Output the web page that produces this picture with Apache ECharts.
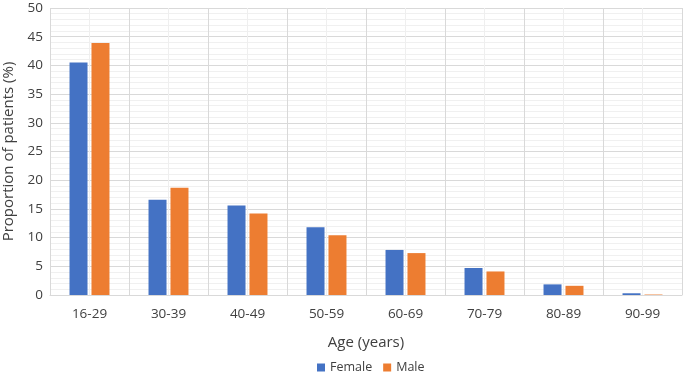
<!DOCTYPE html>
<html>
<head>
<meta charset="utf-8">
<script src="https://cdn.jsdelivr.net/npm/echarts@6/dist/echarts.min.js"></script>
<style>
  html, body { margin: 0; padding: 0; background: #fff; }
  #main { width: 685px; height: 372px; }
</style>
</head>
<body>
<div id="main"></div>
<script>
const ageGroups = ['16-29', '30-39', '40-49', '50-59', '60-69', '70-79', '80-89', '90-99']
const female = [40.5, 16.6, 15.6, 11.8, 7.85, 4.7, 1.85, 0.3]
const male = [43.9, 18.7, 14.2, 10.4, 7.3, 4.1, 1.6, 0.08]
const yTicks = { min: 0, max: 50, interval: 5 }

const font = 'Open Sans'
const chart = echarts.init(document.getElementById('main'))
chart.setOption({
  animation: false,
  textStyle: { fontFamily: font },
  grid: { left: 50, right: 3, top: 8, bottom: 77, outerBoundsMode: 'none', containLabel: false },
  legend: {
    top: 356,
    left: 312,
    itemWidth: 8,
    itemHeight: 8,
    itemGap: 11,
    icon: 'rect',
    textStyle: { fontSize: 12.5, color: '#404040', fontFamily: font },
    data: ['Female', 'Male']
  },
  xAxis: [
    {
      type: 'category',
      data: ageGroups,
      name: 'Age (years)',
      nameLocation: 'middle',
      nameGap: 40,
      nameTextStyle: { fontSize: 15, color: '#404040', fontFamily: font },
      axisLine: { lineStyle: { color: '#d9d9d9' } },
      axisTick: { show: false },
      axisLabel: { color: '#404040', fontSize: 13.5, margin: 12 },
      splitLine: { show: true, lineStyle: { color: '#d9d9d9' } }
    },
    {
      type: 'value',
      min: 0,
      max: 8,
      interval: 1,
      position: 'bottom',
      show: true,
      axisLine: { show: false },
      axisTick: { show: false },
      axisLabel: { show: false },
      splitLine: { show: false },
      minorSplitLine: { show: true, lineStyle: { color: '#efefef' } },
      minorTick: { show: false, splitNumber: 2 }
    }
  ],
  yAxis: {
    type: 'value',
    min: yTicks.min,
    max: yTicks.max,
    interval: yTicks.interval,
    name: 'Proportion of patients (%)',
    nameLocation: 'middle',
    nameGap: 33,
    nameTextStyle: { fontSize: 15, color: '#404040', fontFamily: font },
    axisLine: { show: false },
    axisTick: { show: false },
    axisLabel: { color: '#404040', fontSize: 13.5, margin: 7 },
    splitLine: { lineStyle: { color: '#d9d9d9' } },
    minorTick: { show: false, splitNumber: 5 },
    minorSplitLine: { show: true, lineStyle: { color: '#f0f0f0' } }
  },
  series: [
    {
      name: 'Female',
      type: 'bar',
      data: female,
      barWidth: 18,
      barGap: '22%',
      itemStyle: { color: '#4472c4' }
    },
    {
      name: 'Male',
      type: 'bar',
      data: male,
      barWidth: 18,
      itemStyle: { color: '#ed7d31' }
    }
  ]
})
</script>
</body>
</html>
